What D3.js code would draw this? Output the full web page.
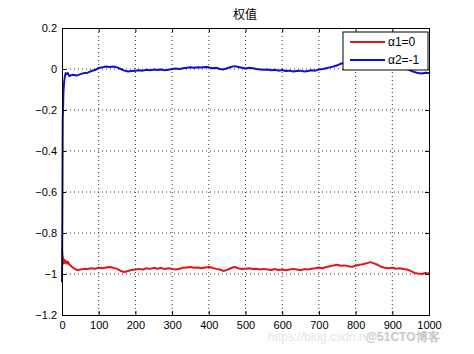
<!DOCTYPE html>
<html>
<head>
<meta charset="utf-8">
<script src="https://cdn.jsdelivr.net/npm/d3@7"></script>
<style>
  body { margin: 0; background: #fff; }
  .tick text { font-family: "Liberation Sans", Arial, sans-serif; font-size: 11px; fill: #000; }
</style>
</head>
<body>
<div id="chart"></div>
<script>
// iteration index shared by both weight curves
var iter = [0, 1, 2, 3, 4, 6, 8, 10, 13, 16, 20, 25, 30, 40, 50, 60, 70, 80, 90,
  100, 110, 120, 130, 140, 150, 160, 170, 180, 190,
  200, 210, 220, 230, 240, 250, 260, 270, 280, 290,
  300, 310, 320, 330, 340, 350, 360, 370, 380, 390,
  400, 410, 420, 430, 440, 450, 460, 470, 480, 490,
  500, 510, 520, 530, 540, 550, 560, 570, 580, 590,
  600, 610, 620, 630, 640, 650, 660, 670, 680, 690,
  700, 710, 720, 730, 740, 750, 760, 770, 780, 790,
  800, 810, 820, 830, 840, 850, 860, 870, 880, 890,
  900, 910, 920, 930, 940, 950, 960, 970, 980, 990, 1000];

// α1 = 0 (red)
var w1 = [-0.88, -0.90, -0.94, -0.92, -0.95, -0.93, -0.945, -0.935, -0.95, -0.94, -0.955, -0.96, -0.97, -0.98, -0.978, -0.975, -0.976, -0.972, -0.974,
  -0.970, -0.972, -0.968, -0.966, -0.970, -0.975, -0.985, -0.990, -0.985, -0.980,
  -0.978, -0.975, -0.978, -0.972, -0.975, -0.970, -0.974, -0.970, -0.976, -0.972,
  -0.975, -0.978, -0.974, -0.970, -0.968, -0.966, -0.970, -0.968, -0.972, -0.968,
  -0.966, -0.970, -0.975, -0.978, -0.985, -0.980, -0.972, -0.966, -0.972, -0.976,
  -0.974, -0.972, -0.976, -0.974, -0.978, -0.975, -0.978, -0.980, -0.976, -0.980,
  -0.978, -0.982, -0.978, -0.975, -0.978, -0.982, -0.976, -0.978, -0.974, -0.972,
  -0.968, -0.972, -0.966, -0.962, -0.958, -0.955, -0.960, -0.958, -0.962, -0.965,
  -0.960, -0.955, -0.952, -0.948, -0.942, -0.948, -0.955, -0.965, -0.970, -0.972,
  -0.970, -0.974, -0.972, -0.976, -0.978, -0.985, -0.995, -0.998, -1.000, -0.995, -0.998];

// α2 = -1 (blue)
var w2 = [-1.04, -0.70, -0.25, -0.18, -0.11, -0.06, -0.035, -0.02, -0.025, -0.02, -0.035, -0.03, -0.028, -0.032, -0.025, -0.02, -0.018, -0.01, -0.005,
  0.005, 0.008, 0.012, 0.010, 0.012, 0.008, 0.000, -0.008, -0.012, -0.010,
  -0.008, -0.006, -0.008, -0.004, -0.006, -0.003, -0.005, -0.002, -0.006, -0.004,
  0.000, 0.002, 0.000, 0.004, 0.006, 0.008, 0.006, 0.009, 0.007, 0.010,
  0.008, 0.004, 0.006, 0.000, -0.002, 0.004, 0.010, 0.014, 0.010, 0.006,
  0.002, 0.006, 0.004, 0.000, -0.002, -0.004, -0.002, -0.006, -0.004, -0.008,
  -0.005, -0.010, -0.008, -0.012, -0.010, -0.008, -0.012, -0.010, -0.006, -0.008,
  -0.002, 0.000, 0.004, 0.008, 0.012, 0.018, 0.026, 0.030, 0.025, 0.020,
  0.018, 0.015, 0.016, 0.012, 0.014, 0.010, 0.012, 0.010, 0.008, 0.010,
  0.006, 0.008, 0.004, 0.002, 0.000, -0.008, -0.015, -0.020, -0.022, -0.018, -0.020];

var xTicks = [0, 100, 200, 300, 400, 500, 600, 700, 800, 900, 1000];
var yTicks = [0.2, 0, -0.2, -0.4, -0.6, -0.8, -1, -1.2];
var names = ['\u03b11=0', '\u03b12=-1'];
var colors = ['#dd1818', '#1010c8'];

var w = 474, h = 354;
var margin = {top: 28, right: 45, bottom: 39, left: 62};

var x = d3.scaleLinear().domain([0, 1000]).range([margin.left, w - margin.right]);
var y = d3.scaleLinear().domain([-1.2, 0.2]).range([h - margin.bottom, margin.top]);

var svg = d3.select('#chart').append('svg')
  .attr('width', w)
  .attr('height', h);

// dotted grid
svg.append('g').selectAll('line')
  .data(xTicks.slice(1, -1))
  .enter().append('line')
  .attr('x1', d => x(d)).attr('x2', d => x(d))
  .attr('y1', y(0.2)).attr('y2', y(-1.2))
  .attr('stroke', '#333').attr('stroke-width', 1)
  .attr('stroke-dasharray', '1,3');
svg.append('g').selectAll('line')
  .data(yTicks.slice(1, -1))
  .enter().append('line')
  .attr('y1', d => y(d)).attr('y2', d => y(d))
  .attr('x1', x(0)).attr('x2', x(1000))
  .attr('stroke', '#333').attr('stroke-width', 1)
  .attr('stroke-dasharray', '1,3');

var line = d3.line()
  .x(d => x(d[0]))
  .y(d => y(d[1]));

[w1, w2].forEach(function(vals, i) {
  svg.append('path')
    .datum(iter.map((t, k) => [t, vals[k]]))
    .attr('d', line)
    .attr('fill', 'none')
    .attr('stroke', colors[i])
    .attr('stroke-width', 2)
    .attr('stroke-linejoin', 'round');
});

// axes with inward ticks, box all round
var xAxis = d3.axisBottom(x).tickValues(xTicks).tickSize(-4).tickPadding(6).tickFormat(d3.format('d'));
var yAxis = d3.axisLeft(y).tickValues(yTicks).tickSize(-4).tickPadding(5).tickFormat(d => d === 0 ? '0' : d3.format('.1f')(d).replace('.0', '').replace('-1.0', '-1'));

svg.append('g')
  .attr('transform', 'translate(0,' + y(-1.2) + ')')
  .call(xAxis);
svg.append('g')
  .attr('transform', 'translate(' + x(0) + ',0)')
  .call(yAxis);
svg.append('g')
  .attr('transform', 'translate(0,' + y(0.2) + ')')
  .call(d3.axisTop(x).tickValues(xTicks).tickSize(-4).tickFormat(''));
svg.append('g')
  .attr('transform', 'translate(' + x(1000) + ',0)')
  .call(d3.axisRight(y).tickValues(yTicks).tickSize(-4).tickFormat(''));

svg.selectAll('.domain').attr('stroke', '#000');
svg.selectAll('.tick line').attr('stroke', '#000');

// title
svg.append('text')
  .attr('x', 245).attr('y', 19)
  .attr('text-anchor', 'middle')
  .attr('font-family', '"Noto Sans CJK SC", sans-serif')
  .attr('font-size', 12)
  .text('权值');

// legend
var lg = svg.append('g').attr('transform', 'translate(343,32)');
lg.append('rect')
  .attr('width', 85).attr('height', 38)
  .attr('fill', '#fff').attr('stroke', '#000');
names.forEach(function(n, i) {
  lg.append('line')
    .attr('x1', 7).attr('x2', 42)
    .attr('y1', 10 + i * 18).attr('y2', 10 + i * 18)
    .attr('stroke', colors[i]).attr('stroke-width', 2);
  lg.append('text')
    .attr('x', 45).attr('y', 14 + i * 18)
    .attr('font-family', '"Liberation Sans", Arial, sans-serif')
    .attr('font-size', 12)
    .text(n);
});

// watermark
var wm = svg.append('text')
  .attr('x', 268).attr('y', 341)
  .attr('font-family', '"Liberation Sans", Arial, sans-serif')
  .attr('font-size', 12);
wm.append('tspan').attr('fill', '#e4e4e4').text('https://blog.csdn.n');
wm.append('tspan').attr('fill', '#c8c8c8').attr('font-weight', 'bold').text('@51CTO博客');
</script>
</body>
</html>
